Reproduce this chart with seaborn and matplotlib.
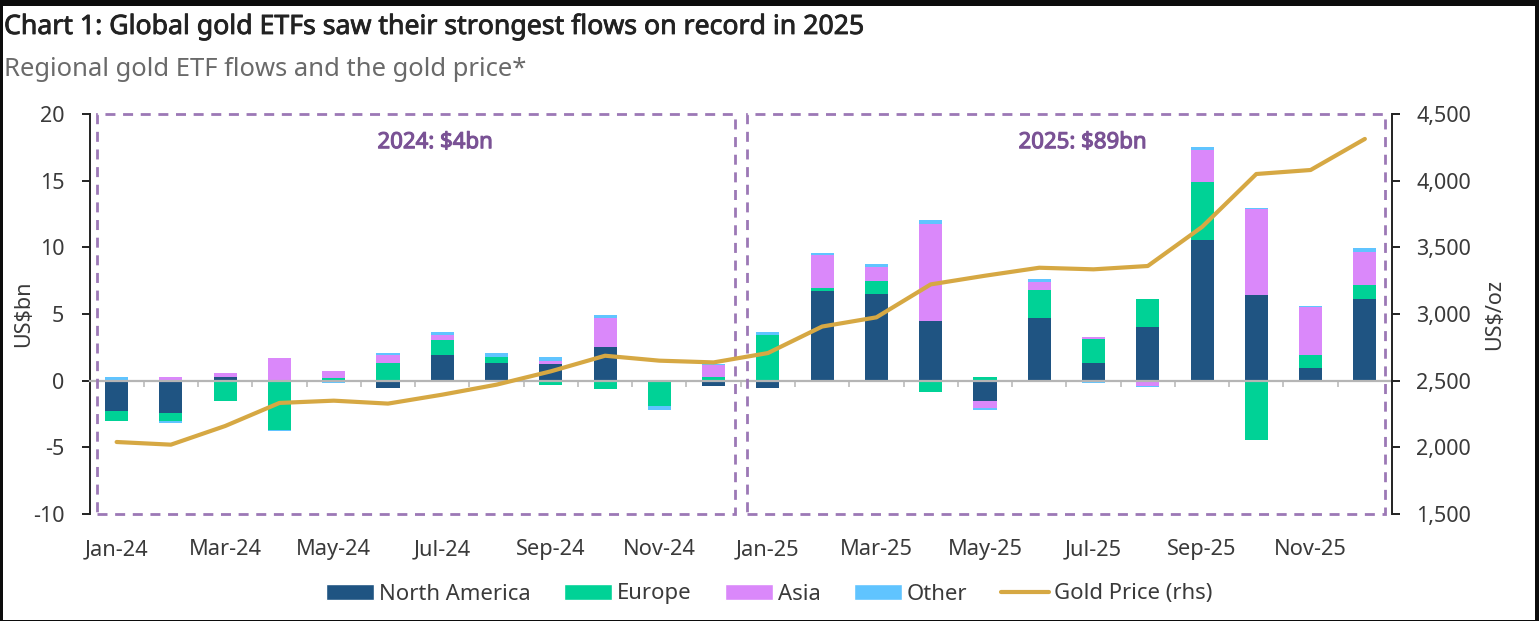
import numpy as np
import pandas as pd
import seaborn as sns
import matplotlib.pyplot as plt
import matplotlib.patheffects as pe
from matplotlib.patches import Rectangle, Patch
from matplotlib.lines import Line2D

months = ['Jan-24', 'Feb-24', 'Mar-24', 'Apr-24', 'May-24', 'Jun-24', 'Jul-24', 'Aug-24',
          'Sep-24', 'Oct-24', 'Nov-24', 'Dec-24', 'Jan-25', 'Feb-25', 'Mar-25', 'Apr-25',
          'May-25', 'Jun-25', 'Jul-25', 'Aug-25', 'Sep-25', 'Oct-25', 'Nov-25', 'Dec-25']

north_america = [-2.3, -2.4, 0.27, 0.0, -0.1, -0.55, 1.95, 1.35, 1.25, 2.55, 0.0, -0.37,
                 -0.55, 6.7, 6.5, 4.45, -1.55, 4.7, 1.3, 4.05, 10.55, 6.4, 0.95, 6.15]
europe = [-0.75, -0.65, -1.5, -3.7, 0.2, 1.3, 1.1, 0.4, -0.35, -0.6, -1.9, 0.27,
          3.4, 0.25, 1.0, -0.85, 0.27, 2.1, 1.8, 2.05, 4.35, -4.45, 1.0, 1.05]
asia = [0.05, 0.25, 0.3, 1.7, 0.55, 0.6, 0.4, 0.02, 0.2, 2.15, 0.0, 0.87,
        0.0, 2.45, 1.0, 7.3, -0.5, 0.57, 0.2, -0.42, 2.4, 6.45, 3.6, 2.45]
other = [0.2, -0.1, 0.02, -0.1, -0.1, 0.15, 0.2, 0.3, 0.3, 0.2, -0.3, 0.1,
         0.25, 0.2, 0.25, 0.27, -0.12, 0.25, -0.15, -0.08, 0.25, 0.12, 0.03, 0.27]
gold_price = [2040, 2020, 2160, 2333, 2350, 2328, 2395, 2470, 2570, 2687, 2650, 2637,
              2707, 2906, 2975, 3222, 3287, 3347, 3335, 3360, 3653, 4050, 4080, 4313]

series_names = ['North America', 'Europe', 'Asia', 'Other']
series_values = [north_america, europe, asia, other]
series_colors = ['#1f5482', '#00d296', '#da88fa', '#60c4ff']
gold_color = '#d6a843'
box_color = '#9c78b6'
text_color = '#3a3a3a'

sns.set_theme(style='white')
plt.rcParams['font.family'] = ['Noto Sans', 'DejaVu Sans']
plt.rcParams['axes.unicode_minus'] = False

W, H = 1539, 621
fig = plt.figure(figsize=(W / 100, H / 100), dpi=100, facecolor='white')
ax = fig.add_axes([89.5 / W, 1 - 514 / H, (1392 - 89.5) / W, 400 / H])

# stacked bars, positives and negatives build away from zero separately
pos_base = np.zeros(len(months))
neg_base = np.zeros(len(months))
for name, vals, col in zip(series_names, series_values, series_colors):
    vals = np.array(vals)
    base = np.where(vals >= 0, pos_base, neg_base)
    df = pd.DataFrame({'month': months, 'flow': vals})
    sns.barplot(data=df, x='month', y='flow', bottom=base, color=col, saturation=1,
                width=0.425, linewidth=0, ax=ax, zorder=2)
    pos_base += np.where(vals >= 0, vals, 0)
    neg_base += np.where(vals < 0, vals, 0)

ax.set_xlim(-0.5, 23.5)
ax.set_ylim(-10, 20)
ax.set_yticks(np.arange(-10, 21, 5))
ax.set_xlabel('')
ax.set_ylabel('')

ax.spines['top'].set_visible(False)
ax.spines['right'].set_visible(False)
ax.spines['left'].set_color('#222222')
ax.spines['left'].set_linewidth(1.4)
ax.spines['bottom'].set_position(('data', 0))
ax.spines['bottom'].set_color('#b5b5b5')
ax.spines['bottom'].set_linewidth(1.6)
ax.spines['bottom'].set_zorder(3)

ax.set_xticks(np.arange(0, 24, 2))
ax.set_xticklabels(months[::2])
ax.set_xticks(np.arange(0.5, 23, 1), minor=True)
ax.tick_params(axis='x', which='major', length=0, pad=114, labelsize=15.7, labelcolor=text_color)
ax.tick_params(axis='x', which='minor', bottom=True, length=4.5, width=1.1, color='#b5b5b5')
ax.tick_params(axis='y', left=True, length=5.5, width=1.4, color='#222222', pad=12.5,
               labelsize=15.5, labelcolor=text_color)
ax.set_axisbelow(False)

ax2 = ax.twinx()
sns.lineplot(x=np.arange(len(months)), y=gold_price, color=gold_color, linewidth=3,
             ax=ax2, zorder=5)
ax2.set_ylim(1500, 4500)
ax2.set_yticks(np.arange(1500, 4501, 500))
ax2.set_yticklabels([f'{v:,}' for v in np.arange(1500, 4501, 500)])
ax2.set_ylabel('')
for s in ['top', 'left', 'bottom']:
    ax2.spines[s].set_visible(False)
ax2.spines['right'].set_color('#222222')
ax2.spines['right'].set_linewidth(1.4)
ax2.tick_params(axis='y', right=True, length=5.5, width=1.4, color='#222222', pad=12,
                labelsize=15.5, labelcolor=text_color)

# dashed year boxes
for x0, x1 in [(-0.37, 11.4), (11.62, 23.38)]:
    ax2.add_patch(Rectangle((x0, 1500), x1 - x0, 3000, fill=False, edgecolor=box_color,
                            linewidth=2, linestyle=(0, (3.6, 2.75)), clip_on=False, zorder=4))

# no bold cut of the font here, so thicken with a thin stroke
for x, label in [(5.87, '2024: $4bn'), (17.8, '2025: $89bn')]:
    t = ax2.text(x, 4285, label, color='#7a5295', fontsize=16, ha='center', va='center')
    t.set_path_effects([pe.withStroke(linewidth=0.8, foreground='#7a5295')])

fig.text(24 / W, 1 - 314 / H, 'US$bn', rotation=90, ha='center', va='center',
         fontsize=15.5, color=text_color)
fig.text(1495 / W, 1 - 314 / H, 'US$/oz', rotation=90, ha='center', va='center',
         fontsize=15.5, color=text_color)

title = fig.text(4 / W, 1 - 27 / H, 'Chart 1: Global gold ETFs saw their strongest flows on record in 2025',
                 fontsize=19.2, color='#222222', ha='left', va='center')
title.set_path_effects([pe.withStroke(linewidth=0.6, foreground='#222222')])
fig.text(4 / W, 1 - 70 / H, 'Regional gold ETF flows and the gold price*',
         fontsize=18.45, color='#6a6a6a', ha='left', va='center')

handles = [Patch(facecolor=c, label=n) for n, c in zip(series_names, series_colors)]
handles.append(Line2D([0], [0], color=gold_color, linewidth=3, label='Gold Price (rhs)'))
fig.legend(handles=handles, loc='center', bbox_to_anchor=(769 / W, 1 - 594 / H), ncol=5,
           frameon=False, fontsize=15.9, labelcolor=text_color, handlelength=2.18,
           handleheight=0.72, handletextpad=0.23, columnspacing=1.5)

# black screenshot edges
for x, y, w, h in [(0, H - 6, W, 6), (0, 0, 3, H), (0, 0, W, 1), (W - 4, 0, 4, H)]:
    fig.add_artist(Rectangle((x / W, y / H), w / W, h / H, transform=fig.transFigure,
                             facecolor='#0c0c0c', edgecolor='none'))

fig.savefig('out.png', dpi=100, facecolor=fig.get_facecolor())
